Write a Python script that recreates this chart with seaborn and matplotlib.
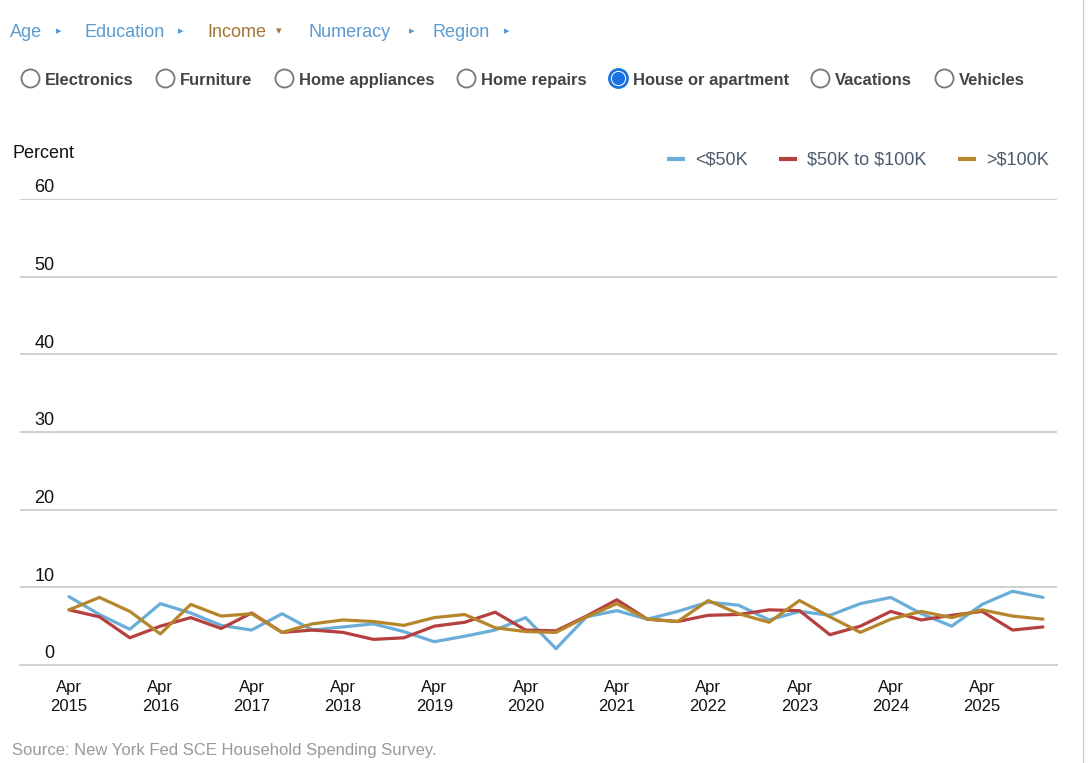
import pandas as pd
import seaborn as sns
import matplotlib.pyplot as plt
from matplotlib.lines import Line2D

# Período da pesquisa (a cada 4 meses)
years = list(range(2015, 2026))
periods = [f"{m} {y}" for y in years for m in ("Apr", "Aug", "Dec")]

# Percentuais
under_50k = [8.8, 6.5, 4.6, 7.9, 6.7, 5.1, 4.5, 6.6, 4.5, 4.9, 5.3,
             4.3, 3.0, 3.7, 4.5, 6.1, 2.1, 6.2, 7.0, 5.9, 6.9, 8.1,
             7.7, 5.8, 6.9, 6.4, 7.9, 8.7, 6.6, 5.0, 7.8, 9.5, 8.7]
k50_to_100 = [7.1, 6.2, 3.5, 5.0, 6.1, 4.7, 6.7, 4.2, 4.5, 4.2, 3.3,
              3.5, 5.0, 5.5, 6.8, 4.5, 4.4, 6.3, 8.4, 5.9, 5.6, 6.4,
              6.5, 7.1, 7.0, 3.9, 5.0, 6.9, 5.8, 6.4, 6.9, 4.5, 4.9]
over_100k = [7.1, 8.7, 6.9, 4.0, 7.8, 6.3, 6.6, 4.2, 5.3, 5.8, 5.6,
             5.1, 6.1, 6.5, 4.8, 4.3, 4.2, 6.2, 7.9, 5.9, 5.6, 8.3,
             6.6, 5.5, 8.3, 6.2, 4.2, 5.9, 6.9, 6.1, 7.1, 6.3, 5.9]

groups = ["<$50K", "$50K to $100K", ">$100K"]
colors = ["#6aaed8", "#b5403e", "#b5862c"]

tab_labels = ["Age", "Education", "Income", "Numeracy", "Region"]
radio_labels = ["Electronics", "Furniture", "Home appliances", "Home repairs",
                "House or apartment", "Vacations", "Vehicles"]
y_ticks = [0, 10, 20, 30, 40, 50, 60]

df = pd.DataFrame({
    "period": periods * 3,
    "value": under_50k + k50_to_100 + over_100k,
    "group": [g for g in groups for _ in periods],
})

sns.set_theme(style="white")
plt.rcParams["font.family"] = ["Liberation Sans", "DejaVu Sans"]
plt.rcParams["text.parse_math"] = False  # "$" literal nos rótulos

W, H = 1090, 763
fig = plt.figure(figsize=(W / 100, H / 100), dpi=100)


def fx(px):
    return px / W


def fy(py):
    return 1 - py / H


ax = fig.add_axes([fx(20), fy(665), fx(1057) - fx(20), fy(199) - fy(665)])

sns.lineplot(data=df, x="period", y="value", hue="group", hue_order=groups,
             palette=colors, linewidth=2.3, sort=False, ax=ax)

ax.set_ylim(0, 60)
ax.set_xlim(-1.61, 32.46)
ax.set_xlabel("")
ax.set_ylabel("")

# grade horizontal
for v in y_ticks[1:]:
    ax.axhline(v, color="#c8c8c8", lw=1.2, zorder=0)
ax.set_yticks([])
for v in y_ticks:
    ax.annotate(str(v), xy=(0, v), xycoords=("axes fraction", "data"),
                xytext=(25, 2), textcoords="offset points",
                ha="right", va="bottom", fontsize=13, color="#111")

# eixo x
for s in ["top", "right", "left"]:
    ax.spines[s].set_visible(False)
ax.spines["bottom"].set_color("#c8c8c8")
ax.spines["bottom"].set_linewidth(1.2)
ax.set_xticks(range(len(periods)))
ax.set_xticklabels([p.replace(" ", "\n") if p.startswith("Apr") else ""
                    for p in periods], fontsize=12, color="#111",
                   linespacing=1.35)
ax.tick_params(axis="x", direction="in", length=7.5, width=1,
               color="#c8c8c8", pad=11)

leg = ax.legend(loc="center right", bbox_to_anchor=(0.999, 1.083), ncol=3,
                frameon=False, fontsize=13, handlelength=1.0,
                columnspacing=1.75, handletextpad=0.55, borderaxespad=0)
for t in leg.get_texts():
    t.set_color("#4b5b6b")
for h in leg.legend_handles:
    h.set_linewidth(3)
    h.set_solid_capstyle("butt")

fig.text(fx(13), fy(153), "Percent", fontsize=13, color="#111",
         va="center", ha="left")

# abas de navegação
tab_x = [10, 85, 207, 309, 433]
tri_x = [59, 181, 279, 412, 507]
for lab, x0, tx in zip(tab_labels, tab_x, tri_x):
    c = "#a37733" if lab == "Income" else "#5b9bd0"
    fig.text(fx(x0), fy(37), lab, fontsize=13, color=c, va="baseline")
    fig.text(fx(tx), fy(31), "▾" if lab == "Income" else "▸", fontsize=8,
             color=c, va="center", ha="center", family="DejaVu Sans")

# botões de rádio
radio_x = [30, 165, 284, 466, 618, 820, 944]
for lab, x0 in zip(radio_labels, radio_x):
    sel = lab == "House or apartment"
    fig.add_artist(Line2D([fx(x0)], [fy(78)], marker="o", markersize=13,
                          mfc="white", mec="#1a73e0" if sel else "#777",
                          mew=2 if sel else 1.3, transform=fig.transFigure))
    if sel:
        fig.add_artist(Line2D([fx(x0)], [fy(78)], marker="o", markersize=8.5,
                              mfc="#1a73e0", mec="#1a73e0",
                              transform=fig.transFigure))
    fig.text(fx(x0 + 15), fy(85), lab, fontsize=11.9, fontweight="bold",
             color="#444", va="baseline")

fig.text(fx(12), fy(750), "Source: New York Fed SCE Household Spending Survey.",
         fontsize=12, color="#999", va="center")

fig.add_artist(Line2D([fx(1083), fx(1083)], [0, 1], color="#d0d0d0", lw=1,
                      transform=fig.transFigure))

fig.savefig("out.png", dpi=100)
